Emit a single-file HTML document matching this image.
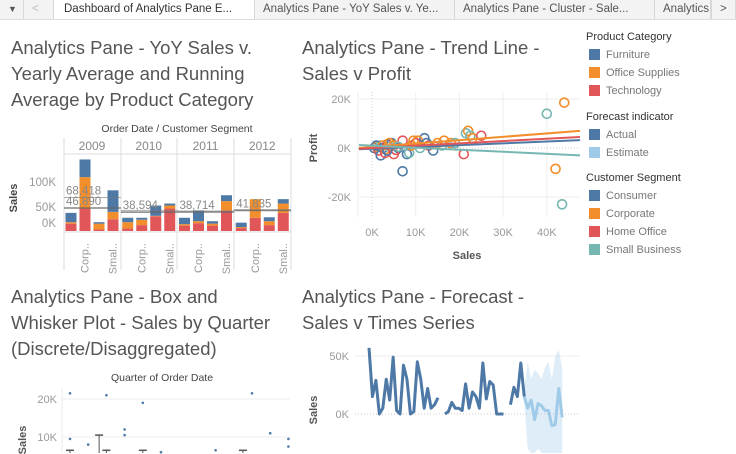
<!DOCTYPE html>
<html><head><meta charset="utf-8"><style>
html,body{margin:0;width:736px;height:454px;overflow:hidden}
body{background:#fff;font-family:"Liberation Sans",sans-serif;position:relative}
.tabs{position:absolute;left:0;top:0;width:736px;height:19px;background:#f3f3f3;border-bottom:1px solid #ddd}
.tab{position:absolute;top:0;height:19px;line-height:18px;font-size:11.5px;color:#555;border-right:1px solid #d8d8d8;padding-left:8px;box-sizing:border-box;white-space:nowrap;overflow:hidden}
.title{position:absolute;font-size:18.5px;color:#555;line-height:26px;white-space:nowrap}
svg{position:absolute;left:0;top:0}
text{font-family:"Liberation Sans",sans-serif}
</style></head><body>
<div class="tabs">
<div class="tab" style="left:0;width:24px;padding-left:8px;font-size:9px">▼</div>
<div class="tab" style="left:24px;width:30px;color:#bbb">&lt;</div>
<div class="tab" style="left:54px;width:201px;background:#fff;color:#333;padding-left:10px">Dashboard of Analytics Pane E...</div>
<div class="tab" style="left:255px;width:200px">Analytics Pane - YoY Sales v. Ye...</div>
<div class="tab" style="left:455px;width:200px">Analytics Pane - Cluster - Sale...</div>
<div class="tab" style="left:655px;width:56px">Analytics</div>
<div class="tab" style="left:711px;width:25px;border-left:1px solid #d8d8d8">&gt;</div>
</div>
<div class="title" style="left:11px;top:35px">Analytics Pane - YoY Sales v.<br>Yearly Average and Running<br>Average by Product Category</div>
<div class="title" style="left:302px;top:35px">Analytics Pane - Trend Line -<br>Sales v Profit</div>
<div class="title" style="left:11px;top:284px">Analytics Pane - Box and<br>Whisker Plot - Sales by Quarter<br>(Discrete/Disaggregated)</div>
<div class="title" style="left:302px;top:284px">Analytics Pane - Forecast -<br>Sales v Times Series</div>
<svg id="s" width="736" height="454"></svg>
<script>
// ---------- data ----------
const years=['2009','2010','2011','2012'];
const segments=['Consumer','Corporate','Home Office','Small Business'];
const techSales=[[15,46,3,24],[5,12,30,46],[11,16,11,42],[6,27,12,37]];
const officeSales=[[3,64,12,15],[13,11,1,6],[3,4,4,19],[2,38,8,19]];
const furnSales=[[19,36,3,44],[9,4,21,4],[13,22,5,12],[9,0,8,9]];
const yearAvg=[46890,38594,38714,41835];
const runningAvg=[68418,42000,40700,43500];
const scatterSales=[0.5,1,1.5,2,2.5,3,3.5,4,4.5,5,5.5,6,7,7,8,8.5,9,9.5,10,11,12,13,14,15,16,16.5,18,19,21,21.5,22,22.5,23,25,1,2,3,4,5,6,40,42,43.5,44,2.5,3.5,10.5,12.5];
const scatterProfit=[0,0.5,-1,1,0,-0.5,1.5,0.5,2,1,-0.8,0,3,-9.5,-2.5,-2,1,3,2,0,4,1,-1,2,1,3,2,2,-2.5,6,7,5,4,5,1,-3,-2,2,-2.5,0.5,14,-8.5,-23,18.5,1,-1,3,2];
const scatterSeg=[0,1,2,3,0,1,2,3,0,1,2,0,2,0,0,3,1,1,2,3,0,2,0,1,3,1,1,3,2,3,1,3,1,2,0,0,2,1,2,3,3,1,3,1,1,0,1,0];
const trendStart=[-0.5,0,-0.3,1.2];
const trendEnd=[3.2,7,4.5,-3];
const xTicks=[0,10,20,30,40];
const yTicks=[20,0,-20];
const forecastActual=[57,15,29,0,5,30,12,49,3,0,42,30,0,2,45,30,5,22,5,8,14,null,0,2,10,5,5,3,26,5,19,15,5,44,13,28,25,0,0,0,null,8,23,15,44,15];
const forecastEst=[15,5,12,-5,9,7,3,3,-10,-9,22,-3];
const estUpper=[20,45,30,38,35,30,40,45,30,50,55,40];
const estLower=[10,-30,-40,-45,-30,-35,-40,-45,-50,-55,-60,-50];
const boxQuarter=[0,0,1,2,3,3,4,5,8,10,11,12,12];
const boxSales=[21.5,9.5,8,21,10.5,12,19,6,6.5,21.5,11,9.5,7.5];

const NS='http://www.w3.org/2000/svg', S=document.getElementById('s');
function el(t,a,p){const e=document.createElementNS(NS,t);for(const k in a)e.setAttribute(k,a[k]);(p||S).appendChild(e);return e;}
function tx(x,y,s,a){const e=el('text',Object.assign({x:x,y:y,'font-size':11,fill:'#888'},a||{}));e.textContent=s;return e;}
const segCol=['#4e79a7','#f28e2b','#e15759','#76b7b2'];

// ---------- chart 1: bars ----------
const g1=el('g',{});
const c1y=v=>231-v*0.49;
tx(177,132,'Order Date  /  Customer Segment',{'text-anchor':'middle',fill:'#444','font-size':10.5},g1);
tx(17,198,'Sales',{transform:'rotate(-90 17 198)','text-anchor':'middle',fill:'#444','font-size':11,'font-weight':'bold'},g1);
[[100,186],[50,211],[0,227]].forEach(t=>tx(56,t[1],t[0]+'K',{'text-anchor':'end',fill:'#999','font-size':11.5},g1));
el('line',{x1:64,y1:154,x2:291,y2:154,stroke:'#ddd'},g1);
el('line',{x1:64,y1:232,x2:291,y2:232,stroke:'#ddd'},g1);
[64,121,177,234,291].forEach(x=>el('line',{x1:x,y1:138,x2:x,y2:270,stroke:'#ddd'},g1));
years.forEach((yr,i)=>{
  const x0=64+i*56.75;
  tx(x0+28,150,yr,{'text-anchor':'middle',fill:'#888','font-size':12},g1);
  segments.forEach((sg,j)=>{
    const bx=x0+1.5+j*14;let base=0;
    [[techSales[i][j],'#e15759'],[officeSales[i][j],'#f28e2b'],[furnSales[i][j],'#4e79a7']].forEach(s=>{
      if(s[0]<=0)return;
      const r=el('rect',{x:bx,y:c1y(base+s[0]),width:11,height:s[0]*0.49,fill:s[1]},g1);
      
      
      base+=s[0];
    });
    if(j==1||j==3){const lx=bx+9,ly=243;tx(lx,ly,j==1?'Corp..':'Smal..',{transform:'rotate(-90 '+lx+' '+ly+')','text-anchor':'end',fill:'#999','font-size':11},g1);}
  });
  const ya=c1y(yearAvg[i]/1000), ra=c1y(runningAvg[i]/1000);
  el('line',{x1:x0,y1:ya,x2:x0+56.75,y2:ya,stroke:'#666','stroke-width':1.5,opacity:0.8},g1);
  el('line',{x1:x0,y1:ra,x2:x0+56.75,y2:ra,stroke:'#777','stroke-width':1,opacity:0.6},g1);
  tx(x0+2,ya-3,yearAvg[i].toLocaleString('en-US'),{fill:'#888','font-size':11.5},g1);
  if(i==0)tx(x0+2,ra-3,runningAvg[i].toLocaleString('en-US'),{fill:'#888','font-size':11.5},g1);
});

// ---------- chart 2: scatter ----------
const g2=el('g',{});
const sx=v=>372+v*4.37, sy=v=>148-v*2.45;
xTicks.forEach(t=>{el('line',{x1:sx(t),y1:92,x2:sx(t),y2:217,stroke:t==0?'#ccc':'#eee','stroke-dasharray':t==0?'1,2':''},g2);tx(sx(t),236,t+'K',{'text-anchor':'middle',fill:'#999','font-size':11},g2);});
yTicks.forEach(t=>{el('line',{x1:358,y1:sy(t),x2:580,y2:sy(t),stroke:t==0?'#ccc':'#eee','stroke-dasharray':t==0?'1,2':''},g2);tx(351,sy(t)+4,t+'K',{'text-anchor':'end',fill:'#999','font-size':11},g2);});
el('line',{x1:358,y1:92,x2:358,y2:217,stroke:'#eee'},g2);
tx(467,259,'Sales',{'text-anchor':'middle',fill:'#555','font-size':11,'font-weight':'bold'},g2);
tx(317,148,'Profit',{transform:'rotate(-90 317 148)','text-anchor':'middle',fill:'#555','font-size':11,'font-weight':'bold'},g2);
scatterSales.forEach((v,i)=>{const c=el('circle',{cx:sx(v),cy:sy(scatterProfit[i]),r:4.5,fill:'none',stroke:segCol[scatterSeg[i]],'stroke-width':1.6},g2);
});
segments.forEach((s,i)=>{const l=el('line',{x1:sx(-3),y1:sy(trendStart[i]),x2:580,y2:sy(trendEnd[i]),stroke:segCol[i],'stroke-width':2},g2);
});

// ---------- legend ----------
const g3=el('g',{});
const leg=[['Product Category',36,[['Furniture','#4e79a7'],['Office Supplies','#f28e2b'],['Technology','#e15759']]],
 ['Forecast indicator',116,[['Actual','#4e79a7'],['Estimate','#a0cbe8']]],
 ['Customer Segment',177,[['Consumer','#4e79a7'],['Corporate','#f28e2b'],['Home Office','#e15759'],['Small Business','#76b7b2']]]];
leg.forEach(L=>{tx(586,L[1]+4,L[0],{fill:'#333','font-size':11},g3);
 L[2].forEach((it,k)=>{const y=L[1]+18*(k+1);const r=el('rect',{x:589,y:y-5,width:11,height:11,fill:it[1]},g3);
 
 tx(606,y+4,it[0],{fill:'#777','font-size':11},g3);});});

// ---------- chart 3: box ----------
const g4=el('g',{});
const by=v=>475-v*3.8, bx=q=>70+q*18.2;
tx(162,381,'Quarter of Order Date',{'text-anchor':'middle',fill:'#444','font-size':10.5},g4);
[20,10].forEach(t=>{el('line',{x1:62,y1:by(t),x2:290,y2:by(t),stroke:'#eee'},g4);tx(57,by(t)+4,t+'K',{'text-anchor':'end',fill:'#999','font-size':11},g4);});
el('line',{x1:62,y1:388,x2:62,y2:453,stroke:'#eee'},g4);
tx(26,440,'Sales',{transform:'rotate(-90 26 440)','text-anchor':'middle',fill:'#555','font-size':11,'font-weight':'bold'},g4);
boxQuarter.forEach((q,i)=>{const c=el('circle',{cx:bx(q),cy:by(boxSales[i]),r:1.3,fill:'#4e79a7'},g4);});
[[0,6.5],[1.6,10.5],[2,6.5],[4,6.5],[9.5,6.5]].forEach(w=>{const x=bx(w[0]);el('line',{x1:x-4,y1:by(w[1]),x2:x+4,y2:by(w[1]),stroke:'#555','stroke-width':1.5},g4);el('line',{x1:x,y1:by(w[1]),x2:x,y2:453,stroke:'#555'},g4);});

// ---------- chart 4: forecast ----------
const g5=el('g',{});
const fx=i=>369+i*3.45, fy=v=>414-v*1.16;
el('line',{x1:355,y1:fy(50),x2:580,y2:fy(50),stroke:'#eee'},g5);
el('line',{x1:355,y1:fy(0),x2:580,y2:fy(0),stroke:'#ccc','stroke-dasharray':'1,2'},g5);
tx(349,fy(50)+4,'50K',{'text-anchor':'end',fill:'#999','font-size':11},g5);
tx(349,fy(0)+4,'0K',{'text-anchor':'end',fill:'#999','font-size':11},g5);
tx(317,410,'Sales',{transform:'rotate(-90 317 410)','text-anchor':'middle',fill:'#555','font-size':11,'font-weight':'bold'},g5);
const off=forecastActual.length-1;
const clamp=v=>Math.min(453,v);
let band='';estUpper.forEach((v,i)=>band+=(i?'L':'M')+fx(off+i)+','+fy(v));
for(let i=estLower.length-1;i>=0;i--)band+='L'+fx(off+i)+','+clamp(fy(estLower[i]));
const b=el('path',{d:band+'Z',fill:'#a0cbe8',opacity:0.35},g5);
let d='',pen=false;forecastActual.forEach((v,i)=>{if(v===null){pen=false;return;}d+=(pen?'L':'M')+fx(i)+','+fy(v);pen=true;});
const a=el('path',{d:d,fill:'none',stroke:'#4e79a7','stroke-width':3,'stroke-linejoin':'round'},g5);
let d2='';forecastEst.forEach((v,i)=>d2+=(i?'L':'M')+fx(off+i)+','+fy(v));
const e=el('path',{d:d2,fill:'none',stroke:'#a0cbe8','stroke-width':3,'stroke-linejoin':'round'},g5);
</script>
</body></html>
